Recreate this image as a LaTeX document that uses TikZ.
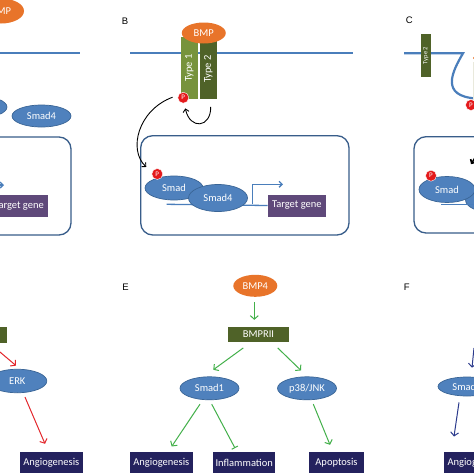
\documentclass[tikz,border=0pt]{standalone}
\usepackage{fontspec}
\setmainfont{Carlito}
\newfontfamily\labfont{Liberation Sans}
\usetikzlibrary{shapes.geometric,arrows.meta,calc}
\definecolor{bblue}{HTML}{4F81BD}
\definecolor{bdark}{HTML}{3A6596}
\definecolor{memb}{HTML}{4A7EBB}
\definecolor{nucl}{HTML}{385D8A}
\definecolor{orng}{HTML}{E8742A}
\definecolor{olivedk}{HTML}{4F6228}
\definecolor{olivelt}{HTML}{77933C}
\definecolor{purp}{HTML}{5F497A}
\definecolor{navy}{HTML}{24225E}
\definecolor{pred}{HTML}{E41A1C}
\definecolor{grn}{HTML}{43B04A}
\definecolor{ared}{HTML}{E3262B}
\definecolor{anavy}{HTML}{2B3A8C}
\definecolor{pale}{HTML}{E9E9DC}
\begin{document}
\begin{tikzpicture}[x=1pt,y=-1pt,
  txt/.style={font=\fontsize{10.5}{12}\selectfont, text=white, inner sep=0pt},
  ell/.style={txt, ellipse, fill=bblue, draw=bdark, line width=0.7pt, minimum width=59pt, minimum height=23pt},
  bmpell/.style={txt, ellipse, fill=orng, minimum width=44pt, minimum height=21pt},
  olbox/.style={txt, rectangle, fill=olivedk, minimum height=15pt},
  navbox/.style={txt, rectangle, fill=navy, minimum height=21pt},
  genebox/.style={txt, rectangle, fill=purp, minimum width=58pt, minimum height=22pt},
  pdot/.style={circle, fill=pred, draw=white, line width=0.4pt, minimum size=11pt, inner sep=0pt, text=white, font=\fontsize{7}{8}\selectfont},
  membrane/.style={draw=memb, line width=2.2pt},
  nucleus/.style={draw=nucl, line width=1.3pt, rounded corners=12pt},
  dna/.style={draw=memb, line width=1.3pt},
  tx/.style={draw=memb, line width=1.3pt, -{Straight Barb[length=3pt,width=6pt]}},
  garrow/.style={draw=grn, line width=1pt, -{Straight Barb[length=3.5pt,width=8pt]}},
  ginhib/.style={draw=grn, line width=1pt, -{Bar[width=7pt]}},
  rarrow/.style={draw=ared, line width=1pt, -{Straight Barb[length=3.5pt,width=8pt]}},
  narrow/.style={draw=anavy, line width=1pt, -{Straight Barb[length=3.5pt,width=8pt]}},
  karrow/.style={draw=black, line width=0.9pt, -{Straight Barb[length=3pt,width=6pt]}},
  panel/.style={font=\labfont\fontsize{9.5}{10}\selectfont, inner sep=0pt},
]
\clip (0,0) rectangle (474,474);
\fill[white] (0,0) rectangle (474,474);

% ================= Panel A (cropped) =================
\draw[membrane] (-20,53) -- (80,53);
\node[bmpell, minimum width=46pt, minimum height=25pt] (abmp) at (1,11) {BMP};
\node[ell, minimum width=58pt, minimum height=22pt] (asmad) at (-22,107) {Smad};
\node[ell, minimum width=59pt, minimum height=22pt] (asmad4) at (41.5,116) {Smad4};
\draw[nucleus] (-110,137) rectangle (71,235);
\node[genebox] (agene) at (19,206) {Target gene};
\draw[dna] (-60,206) -- (agene.west);
\draw[tx] (-26,206) |- (4,185);

% ================= Panel B =================
\node[panel] (lb) at (125,21) {B};
\draw[membrane] (130,53.3) -- (353,53.3);
\node[txt, rectangle, fill=olivelt, minimum width=16.7pt, minimum height=62.6pt] (btype1) at (189.3,68) {};
\node[txt, rotate=90] at (btype1.center) {Type 1};
\node[txt, rectangle, fill=olivedk, minimum width=16.7pt, minimum height=60pt] (btype2) at (208.3,69) {};
\node[txt, rotate=90] at (btype2.center) {Type 2};
\node[bmpell] (bbmp) at (203.8,33) {BMP};
\node[pdot] (bp1) at (183.3,97.7) {P};
\draw[karrow] ($(btype2.south)+(2.4,7.7)$) .. controls (211,128) and (190,130) .. ($(bp1.south)+(2,5)$);
\draw[nucleus] (140.7,135.7) rectangle (349,235);
\node[genebox] (bgene) at (296.8,205.5) {Target gene};
\draw[dna] (166.7,204.3) -- (bgene.west);
\draw[tx] (252.3,204.3) |- (283,184.3);
\node[ell, minimum width=58pt, minimum height=24pt] (bsmad) at (174,188) {Smad};
\node[ell, minimum width=59pt, minimum height=27pt] (bsmad4) at (218,198) {Smad4};
\node[pdot] (bp2) at (157.3,174) {P};
\draw[karrow] ($(bp1.west)+(-5,-0.5)$) .. controls (138,110) and (128,150) .. ($(bp2.north west)+(-7,-3)$);

% ================= Panel C (cropped) =================
\node[panel] (lc) at (409.3,20.7) {C};
\draw[membrane] (404,53.3) -- (463,53.3) .. controls (452,72) and (440,96) .. (476,98.5);
\node[txt, rectangle, fill=olivedk, minimum width=10pt, minimum height=42.4pt] (ctype2) at (425.7,55.5) {};
\node[txt, rotate=90, font=\fontsize{6.5}{7}\selectfont] at (ctype2.center) {Type 2};
\fill[pale] (472.5,62) rectangle (490,100);
\node[bmpell, minimum width=46pt, minimum height=10pt] (cbmp) at (496,58) {};
\node[pdot] (cp1) at (471,105) {P};
\draw[nucleus] (414,136.7) rectangle (600,233);
\coordinate (cin) at (480,150);
\node[ell, minimum width=59pt, minimum height=26pt] (csmad4) at (495,200) {};
\draw[dna] (441,204.3) -- (480,204.3);
\node[ell, minimum width=56pt, minimum height=26pt] (csmad) at (447,189.5) {Smad};
\node[pdot] (cp2) at (431,175.7) {P};
\draw[karrow, line width=1.6pt] (cin) -- ($(csmad.north)+(24,-12)$);

% ================= Panel D (cropped) =================
\node[olbox, minimum width=57pt, minimum height=16pt] (dbox) at (-21.4,335.3) {};
\node[ell, minimum width=59pt, minimum height=23.5pt] (derk) at (17.3,381) {ERK};
\node[navbox, minimum width=62.7pt] (dang) at (51.3,462.8) {Angiogenesis};
\draw[rarrow] ($(dbox.south)+(19,6.5)$) -- ($(derk.north)+(-1.3,-3.3)$);
\draw[rarrow] ($(derk.south)+(7.7,4)$) -- ($(dang.north)+(-6.3,-8.3)$);

% ================= Panel E =================
\node[panel] (le) at (125.5,287.3) {E};
\node[bmpell, minimum width=44pt, minimum height=22pt] (ebmp) at (255.3,285.8) {BMP4};
\node[olbox, minimum width=61.6pt, minimum height=14.4pt] (ebmpr) at (258.5,334.5) {BMPRII};
\node[ell] (esmad) at (209.5,388.3) {Smad1};
\node[ell] (ep38) at (307,388.3) {p38/JNK};
\node[navbox, minimum width=62.7pt] (eang) at (161.3,462.8) {Angiogenesis};
\node[navbox, minimum width=61.7pt] (einf) at (244.2,462.8) {Inflammation};
\node[navbox, minimum width=55pt] (eapo) at (336.5,462.8) {Apoptosis};
\draw[garrow] ($(ebmp.south)+(-1,5)$) -- ($(ebmpr.north)+(-4.2,-7.3)$);
\draw[garrow] ($(ebmpr.south)+(-15.2,6)$) -- ($(esmad.north)+(3.8,-6.7)$);
\draw[garrow] ($(ebmpr.south)+(19.2,6)$) -- ($(ep38.north)+(-6,-6)$);
\draw[garrow] ($(esmad.south)+(-9.5,4)$) -- ($(eang.north)+(10.4,-5.6)$);
\draw[ginhib] ($(esmad.south)+(2.2,4)$) -- ($(einf.north)+(-9.2,-4)$);
\draw[garrow] ($(ep38.south)+(6.3,4)$) -- ($(eapo.north)+(-6.5,-7.3)$);

% ================= Panel F (cropped) =================
\node[panel] (lf) at (406.7,287.3) {F};
\coordinate (fin) at (474,348);
\node[ell, minimum width=58pt, minimum height=19pt] (fsmad) at (467,386.5) {Smad1};
\node[navbox, minimum width=63pt] (fang) at (475.5,462.8) {Angiogenesis};
\draw[narrow] (fin) -- ($(fsmad.north)+(5,-9)$);
\draw[narrow] ($(fsmad.south)+(-8,6)$) -- ($(fang.north)+(-21.5,-15.6)$);
\end{tikzpicture}
\end{document}
